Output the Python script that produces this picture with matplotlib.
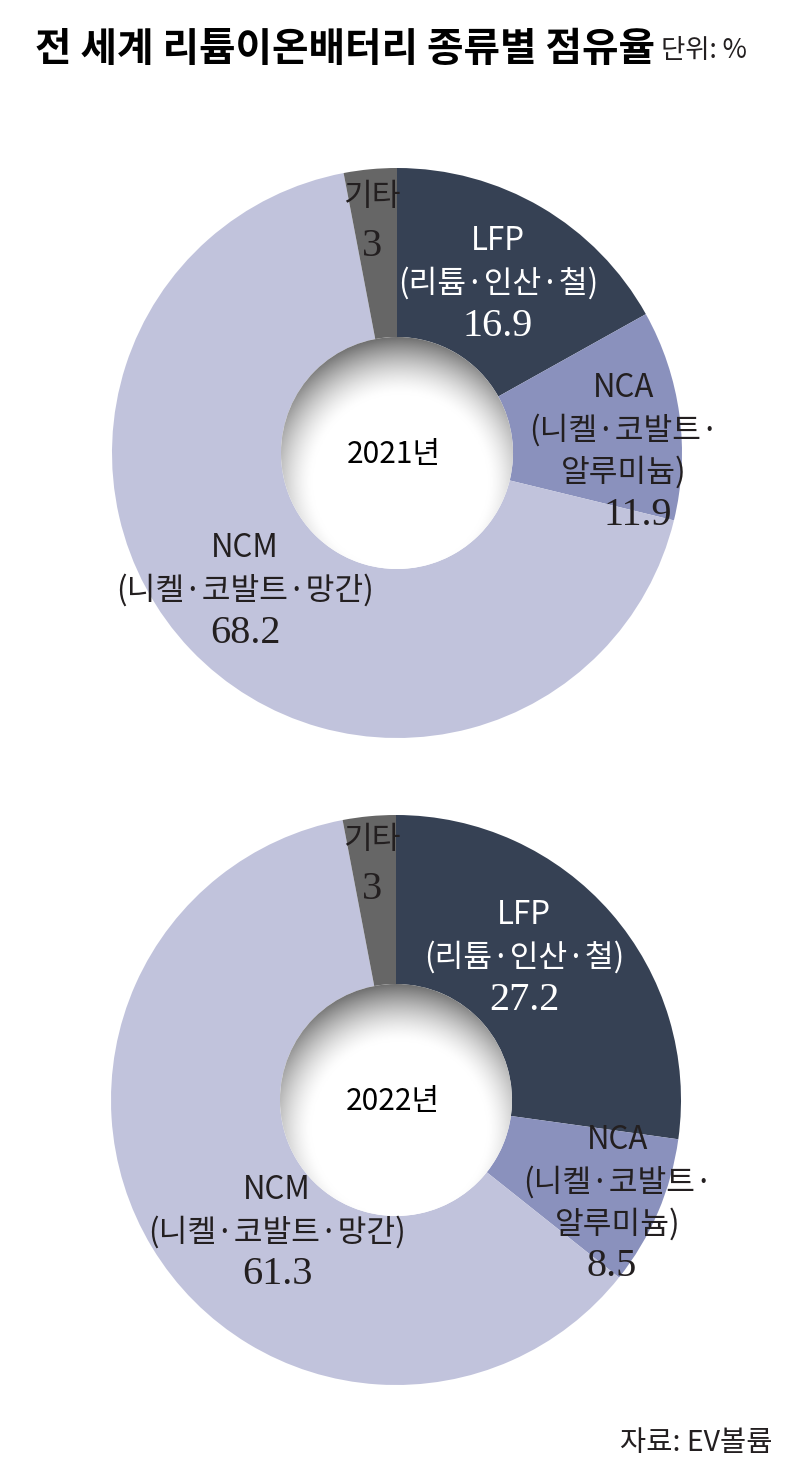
import numpy as np
import matplotlib
matplotlib.use("Agg")
import matplotlib.pyplot as plt
from matplotlib.patches import Circle

W, H = 800, 1469
KR = ["Noto Sans CJK KR", "DejaVu Sans"]
SERIF = ["Liberation Serif", "DejaVu Serif"]
DARK = "#231f20"

types = ["LFP", "NCA", "NCM", "기타"]
subs = ["(리튬·인산·철)", "(니켈·코발트·\n알루미늄)", "(니켈·코발트·망간)", ""]
years = ["2021년", "2022년"]
share_2021 = [16.9, 11.9, 68.2, 3]
share_2022 = [27.2, 8.5, 61.3, 3]
colors = ["#364154", "#8a91bd", "#c1c3dc", "#666666"]
txt_colors = ["white", DARK, DARK, DARK]

# layout in pixel coords (y from top)
centers = [(397, 453), (396, 1100)]
R_OUT, R_IN = 285, 116
label_pos = [
    {"LFP": (498, 241), "NCA": (624, 388), "NCM": (245, 548), "기타": (372, 197)},
    {"LFP": (524, 915), "NCA": (618, 1140), "NCM": (277, 1190), "기타": (372, 840)},
]
num_x = {"NCA": [638, 612]}
num_gap = {"기타": 49}

fig = plt.figure(figsize=(W / 100, H / 100), dpi=100)
ax = fig.add_axes([0, 0, 1, 1])


def Y(y):
    return H - y


def hole(cx, cy):
    # white hole with soft inner shadow near the top edge
    n = 300
    xs = np.linspace(-1, 1, n)
    gx, gy = np.meshgrid(xs, xs)  # gy positive = down
    d = np.hypot(gx - 0.03, gy - 0.25)
    t = np.clip((d - 0.76) / (1.26 - 0.76), 0, 1)
    g = 1 - 0.58 * t ** 1.5
    img = np.dstack([g, g, g])
    circ = Circle((cx, Y(cy)), R_IN, transform=ax.transData, fc="none", ec="none")
    ax.add_patch(circ)
    im = ax.imshow(img, extent=[cx - R_IN, cx + R_IN, Y(cy) - R_IN, Y(cy) + R_IN],
                   origin="upper", interpolation="bilinear", zorder=3)
    im.set_clip_path(circ)


for k, vals in enumerate([share_2021, share_2022]):
    cx, cy = centers[k]
    ax.pie(vals, colors=colors, startangle=90, counterclock=False,
           center=(cx, Y(cy)), radius=R_OUT,
           wedgeprops=dict(width=R_OUT - R_IN, linewidth=0))
    hole(cx, cy)
    ax.text(cx - 3, Y(cy + 1), years[k], family=KR, fontsize=21.5, color="black",
            ha="center", va="center", zorder=4)
    for i, t in enumerate(types):
        x, y = label_pos[k][t]
        c = txt_colors[i]
        ax.text(x, Y(y), t, family=KR, fontsize=22.5, color=c, ha="center", va="center")
        nxt = y
        if subs[i]:
            for line in subs[i].split("\n"):
                nxt += 42
                ax.text(x, Y(nxt), line, family=KR, fontsize=22.5, color=c,
                        ha="center", va="center")
        nxt += num_gap.get(t, 43)
        vx = num_x.get(t, [x, x])[k]
        ax.text(vx, Y(nxt), f"{vals[i]:g}", family=SERIF, fontsize=29, color=c,
                ha="center", va="center")

ax.text(35, Y(49), "전 세계 리튬이온배터리 종류별 점유율", family=KR, fontsize=28.6,
        fontweight="bold", color="black", ha="left", va="center")
ax.text(661, Y(50), "단위: %", family=KR, fontsize=19, color=DARK, ha="left", va="center")
ax.text(772, Y(1443), "자료: EV볼륨", family=KR, fontsize=20.5, color=DARK,
        ha="right", va="center")

ax.set_xlim(0, W)
ax.set_ylim(0, H)
ax.set_aspect("auto")
ax.set_axis_off()
fig.savefig("out.png", dpi=100, facecolor="white")
